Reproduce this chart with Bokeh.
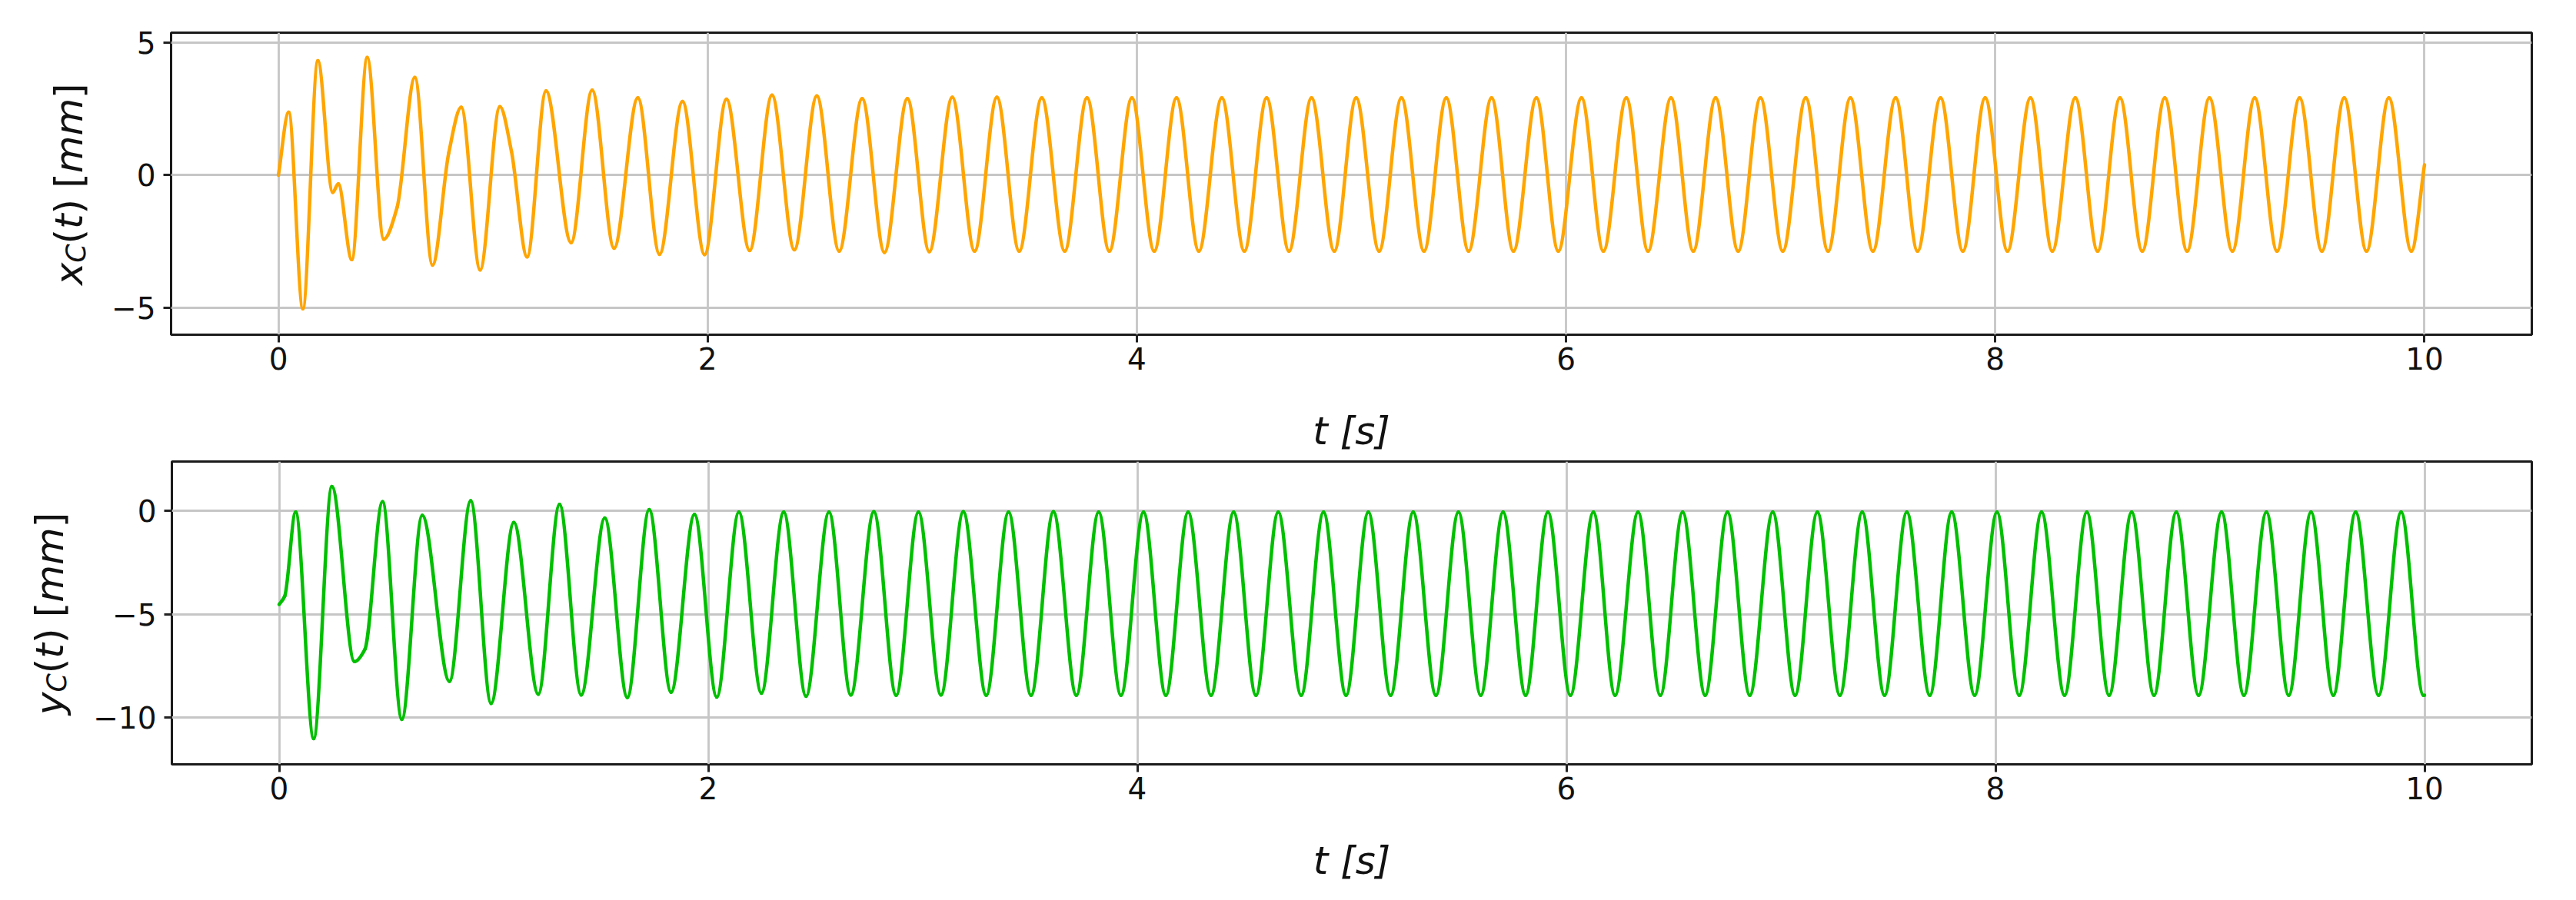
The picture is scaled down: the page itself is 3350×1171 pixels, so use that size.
from bokeh.plotting import figure
from bokeh.models import Range1d, FixedTicker, ColumnDataSource
from bokeh.layouts import column, row
from bokeh.core.properties import value
from bokeh.embed import file_html
from bokeh.resources import INLINE

# ---------------- data (extrema / turning points) ----------------
t_x = [0.000, 0.048, 0.114, 0.184, 0.253, 0.279, 0.342, 0.414, 0.491, 0.553,
       0.636, 0.718, 0.794, 0.852, 0.940, 1.032, 1.086, 1.159, 1.247, 1.364,
       1.462, 1.564, 1.675, 1.776, 1.883, 1.986, 2.088, 2.196, 2.300, 2.404,
       2.509, 2.613, 2.720, 2.824, 2.931, 3.033, 3.140, 3.244, 3.348, 3.452,
       3.557, 3.664, 3.768, 3.872, 3.977, 4.081, 4.185, 4.289, 4.396, 4.501,
       4.605, 4.709, 4.814, 4.920, 5.022, 5.129, 5.233, 5.338, 5.442, 5.546,
       5.653, 5.755, 5.862, 5.964, 6.072, 6.174, 6.281, 6.382, 6.489, 6.593,
       6.697, 6.802, 6.906, 7.010, 7.117, 7.221, 7.325, 7.430, 7.536, 7.638,
       7.745, 7.849, 7.953, 8.057, 8.164, 8.266, 8.373, 8.477, 8.581, 8.685,
       8.790, 8.894, 8.998, 9.105, 9.209, 9.313, 9.418, 9.522, 9.626, 9.730,
       9.834, 9.939, 10.000]
x_c = [0.00, 2.38, -5.05, 4.33, -0.65, -0.33, -3.19, 4.45, -2.42, -1.22,
       3.70, -3.40, 0.85, 2.57, -3.58, 2.59, 0.90, -3.09, 3.19, -2.55,
       3.22, -2.76, 2.93, -2.99, 2.79, -3.00, 2.88, -2.85, 3.03, -2.82,
       3.00, -2.87, 2.90, -2.92, 2.90, -2.89, 2.95, -2.87, 2.95, -2.87,
       2.93, -2.87, 2.93, -2.87, 2.93, -2.87, 2.93, -2.87, 2.93, -2.87,
       2.93, -2.87, 2.93, -2.87, 2.93, -2.87, 2.93, -2.87, 2.93, -2.87,
       2.93, -2.87, 2.93, -2.87, 2.93, -2.87, 2.93, -2.87, 2.93, -2.87,
       2.93, -2.87, 2.93, -2.87, 2.93, -2.87, 2.93, -2.87, 2.93, -2.87,
       2.93, -2.87, 2.93, -2.87, 2.93, -2.87, 2.93, -2.87, 2.93, -2.87,
       2.93, -2.87, 2.93, -2.87, 2.93, -2.87, 2.93, -2.87, 2.93, -2.87,
       2.93, -2.87, 0.39]

t_y = [0.000, 0.026, 0.077, 0.161, 0.246, 0.351, 0.400, 0.482, 0.572, 0.667,
       0.794, 0.893, 0.988, 1.094, 1.208, 1.307, 1.408, 1.518, 1.623, 1.725,
       1.827, 1.936, 2.040, 2.143, 2.248, 2.352, 2.456, 2.563, 2.665, 2.772,
       2.876, 2.980, 3.085, 3.189, 3.296, 3.400, 3.505, 3.609, 3.716, 3.820,
       3.924, 4.029, 4.133, 4.237, 4.344, 4.449, 4.553, 4.657, 4.764, 4.868,
       4.973, 5.077, 5.181, 5.286, 5.392, 5.497, 5.601, 5.705, 5.810, 5.914,
       6.019, 6.126, 6.227, 6.334, 6.438, 6.542, 6.647, 6.751, 6.855, 6.962,
       7.066, 7.170, 7.275, 7.379, 7.483, 7.587, 7.694, 7.796, 7.903, 8.007,
       8.111, 8.215, 8.322, 8.426, 8.530, 8.635, 8.739, 8.843, 8.947, 9.054,
       9.158, 9.263, 9.367, 9.471, 9.575, 9.679, 9.786, 9.891, 9.995, 10.000]
y_c = [-4.53, -4.13, -0.05, -11.03, 1.19, -7.30, -6.70, 0.45, -10.10, -0.21,
       -8.26, 0.50, -9.33, -0.55, -8.88, 0.32, -8.92, -0.34, -9.04, 0.07,
       -8.79, -0.16, -9.02, -0.05, -8.83, -0.05, -8.98, -0.05, -8.92, -0.03,
       -8.94, -0.05, -8.92, -0.03, -8.94, -0.05, -8.94, -0.03, -8.94, -0.05,
       -8.94, -0.05, -8.94, -0.05, -8.94, -0.05, -8.94, -0.05, -8.94, -0.05,
       -8.94, -0.05, -8.94, -0.05, -8.94, -0.05, -8.94, -0.05, -8.94, -0.05,
       -8.94, -0.05, -8.94, -0.05, -8.94, -0.05, -8.94, -0.05, -8.94, -0.05,
       -8.94, -0.05, -8.94, -0.05, -8.94, -0.05, -8.94, -0.05, -8.94, -0.05,
       -8.94, -0.05, -8.94, -0.05, -8.94, -0.05, -8.94, -0.05, -8.94, -0.05,
       -8.94, -0.05, -8.94, -0.05, -8.94, -0.05, -8.94, -0.05, -8.94, -8.93]

x_ticks = [0, 2, 4, 6, 8, 10]
x_tick_labels = ["0", "2", "4", "6", "8", "10"]
xc_ticks = [-5, 0, 5]
xc_tick_labels = ["\u22125", "0", "5"]
yc_ticks = [-10, -5, 0]
yc_tick_labels = ["\u221210", "\u22125", "0"]
x_title = "t [s]"

# ---------------- layout / style ----------------
W = 3334            # page content width
LAB_W = 118         # strip holding the vertical axis titles
MAIN_W = W - LAB_W
FRAME_LEFT = 104    # inside the main figure
FRAME_W = 3070
FRAME_H = 394
TICK_FONT = "39px"
LBL = 50.0
ADV = {"x": 0.592, "y": 0.592, "C": 0.698, "(": 0.390, ")": 0.390, "t": 0.392,
       "[": 0.390, "]": 0.390, "m": 0.974, "s": 0.521, " ": 0.318}
TXT_COLOR = "#111111"


def text_width(s, size):
    return sum(ADV[c] for c in s) * size


def tangents(t, v):
    n = len(t)
    h = [t[i + 1] - t[i] for i in range(n - 1)]
    d = [(v[i + 1] - v[i]) / h[i] for i in range(n - 1)]
    m = [0.0] * n
    m[0] = d[0]
    m[-1] = d[-1]
    for i in range(1, n - 1):
        if d[i - 1] * d[i] <= 0:
            m[i] = 0.0
        else:
            w1 = 2 * h[i] + h[i - 1]
            w2 = h[i] + 2 * h[i - 1]
            m[i] = (w1 + w2) / (w1 / d[i - 1] + w2 / d[i])
    return m


def curve_source(t, v):
    m = tangents(t, v)
    data = dict(x0=[], y0=[], x1=[], y1=[], cx0=[], cy0=[], cx1=[], cy1=[])
    for i in range(len(t) - 1):
        h = t[i + 1] - t[i]
        data["x0"].append(t[i]); data["y0"].append(v[i])
        data["x1"].append(t[i + 1]); data["y1"].append(v[i + 1])
        data["cx0"].append(t[i] + h / 3); data["cy0"].append(v[i] + m[i] * h / 3)
        data["cx1"].append(t[i + 1] - h / 3); data["cy1"].append(v[i + 1] - m[i + 1] * h / 3)
    return ColumnDataSource(data)


def make_main(height, top_border, ylo, yhi, yticks, ylabels):
    bottom_border = height - top_border - FRAME_H
    p = figure(width=MAIN_W, height=height, output_backend="svg", toolbar_location=None,
               x_range=Range1d(-0.5, 10.5), y_range=Range1d(ylo, yhi),
               min_border_left=FRAME_LEFT, min_border_right=MAIN_W - FRAME_LEFT - FRAME_W,
               min_border_top=top_border, min_border_bottom=bottom_border)
    p.outline_line_color = "#1a1a1a"
    p.outline_line_width = 3
    p.background_fill_color = "white"
    p.border_fill_color = "white"
    p.xaxis.ticker = FixedTicker(ticks=x_ticks)
    p.xaxis.major_label_overrides = dict(zip(x_ticks, x_tick_labels))
    p.yaxis.ticker = FixedTicker(ticks=yticks)
    p.yaxis.major_label_overrides = dict(zip(yticks, ylabels))
    for ax in (p.xaxis[0], p.yaxis[0]):
        ax.axis_line_color = None
        ax.major_tick_line_color = "#222222"
        ax.major_tick_line_width = 3
        ax.major_tick_out = 10
        ax.major_tick_in = 0
        ax.minor_tick_line_color = None
        ax.major_label_text_font = "DejaVu Sans"
        ax.major_label_text_font_size = TICK_FONT
        ax.major_label_text_color = TXT_COLOR
    p.xaxis.major_label_standoff = 6
    p.yaxis.major_label_standoff = 10
    p.xaxis.axis_label = x_title
    p.xaxis.axis_label_text_font = "DejaVu Sans"
    p.xaxis.axis_label_text_font_style = "italic"
    p.xaxis.axis_label_text_font_size = f"{LBL:.0f}px"
    p.xaxis.axis_label_text_color = TXT_COLOR
    p.xaxis.axis_label_standoff = 48
    p.grid.grid_line_color = "#c6c6c6"
    p.grid.grid_line_width = 2.8
    return p


def put(p, x, y, s, style, size, angle=0.0):
    p.text(x=[x], y=[y], text=[s], angle=angle,
           text_font=value("DejaVu Sans"), text_font_style=style,
           text_font_size=value(f"{size:.1f}px"), text_color=TXT_COLOR,
           text_align="left", text_baseline="alphabetic")


def ylabel_strip(height, top_border, letter, baseline_x):
    # same top/bottom borders as the neighbouring plot, so both frames coincide
    bottom_border = height - top_border - FRAME_H
    p = figure(width=LAB_W, height=height, output_backend="svg", toolbar_location=None,
               x_range=Range1d(0, LAB_W), y_range=Range1d(0, FRAME_H),
               x_axis_location=None, y_axis_location=None,
               min_border_left=0, min_border_right=0,
               min_border_top=top_border, min_border_bottom=bottom_border)
    p.grid.visible = False
    p.outline_line_color = None
    p.background_fill_color = "white"
    p.border_fill_color = "white"
    pieces = [(letter, "italic", 1.0, 0), ("C", "italic", 0.7, 9), ("(", "normal", 1.0, 0),
              ("t", "italic", 1.0, 0), (")", "normal", 1.0, 0), (" ", None, 0.9, 0),
              ("[", "normal", 1.0, 0), ("mm", "italic", 1.0, 0), ("]", "normal", 1.0, 0)]
    total = sum(text_width(s, LBL * f) for s, _, f, _ in pieces)
    pos = FRAME_H / 2 - 1 - total / 2
    for s, st, f, shift in pieces:
        if st is not None:
            put(p, baseline_x + shift, pos, s, st, LBL * f, angle=1.5707963)
        pos += text_width(s, LBL * f)
    return p


# top panel
XLO, XHI = -6.03, 5.39
H1, TOP1 = 592, 42
p1 = make_main(H1, TOP1, XLO, XHI, xc_ticks, xc_tick_labels)
p1.bezier(x0="x0", y0="y0", x1="x1", y1="y1", cx0="cx0", cy0="cy0", cx1="cx1", cy1="cy1",
          source=curve_source(t_x, x_c), line_color="#FFA500", line_width=4.5, line_cap="round")
yl1 = ylabel_strip(H1, TOP1, "x", 89)

# bottom panel
YLO, YHI = -12.28, 2.40
H2, TOP2 = 563, 8
p2 = make_main(H2, TOP2, YLO, YHI, yc_ticks, yc_tick_labels)
p2.bezier(x0="x0", y0="y0", x1="x1", y1="y1", cx0="cx0", cy0="cy0", cx1="cx1", cy1="cy1",
          source=curve_source(t_y, y_c), line_color="#00BF00", line_width=4.5, line_cap="round")
yl2 = ylabel_strip(H2, TOP2, "y", 64)

layout = column(row(yl1, p1, spacing=0), row(yl2, p2, spacing=0), spacing=0)
open("out.html", "w").write(file_html(layout, INLINE))
